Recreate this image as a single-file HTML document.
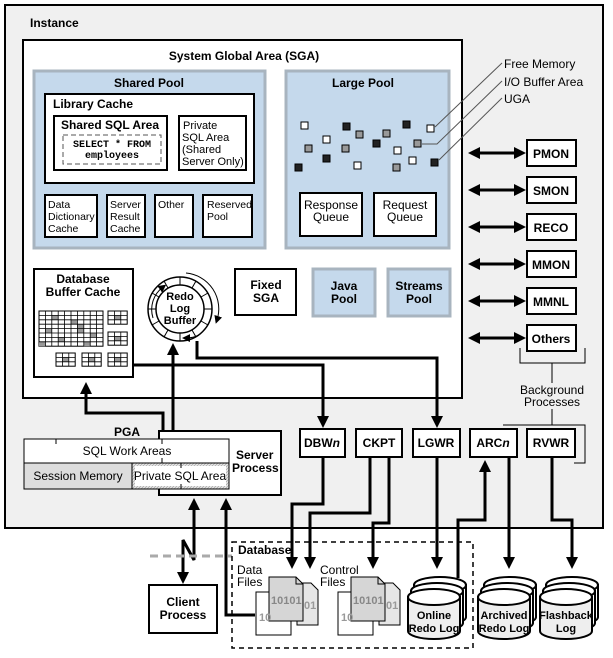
<!DOCTYPE html>
<html><head><meta charset="utf-8"><style>
html,body{margin:0;padding:0;background:#fff}
svg{display:block;font-family:"Liberation Sans",Arial,sans-serif}
.b{font-weight:bold;font-size:12px}
.s{font-size:11px}
.bx{fill:#fff;stroke:#000;stroke-width:2}
.bp{fill:#c5d9ec;stroke:#a8b4bf;stroke-width:3}
.ln{fill:none;stroke:#000;stroke-width:3}
</style></head><body>
<svg width="613" height="658" viewBox="0 0 613 658" xmlns="http://www.w3.org/2000/svg">
<defs>
<marker id="ah" markerWidth="4" markerHeight="4" refX="2" refY="2" orient="auto" markerUnits="strokeWidth"><path d="M0,0 L4,2 L0,4 z" fill="#000"/></marker>
<marker id="ah2" markerWidth="4" markerHeight="4" refX="2" refY="2" orient="auto-start-reverse" markerUnits="strokeWidth"><path d="M0,0 L4,2 L0,4 z" fill="#000"/></marker>
<marker id="sa" markerWidth="8" markerHeight="8" refX="4" refY="4" orient="auto" markerUnits="userSpaceOnUse"><path d="M0,0 L8,4 L0,8 z" fill="#000"/></marker>
<pattern id="hatch" width="3" height="3" patternUnits="userSpaceOnUse"><rect width="3" height="3" fill="#e4e4e4"/><path d="M0,3 L3,0" stroke="#999" stroke-width="0.6"/></pattern>
<g id="sg">
<rect x="0" y="0" width="19.2" height="13.2" fill="#fff" stroke="#000" stroke-width="1"/>
<rect x="6.4" y="4.4" width="6.4" height="4.4" fill="#999"/>
<path d="M6.4,0 V13.2 M12.8,0 V13.2 M0,4.4 H19.2 M0,8.8 H19.2" stroke="#000" stroke-width="0.8"/>
</g>
<g id="cyl">
<g transform="translate(6,-12)"><path d="M0,0 v32 a26,8 0 0 0 52,0 v-32 z" fill="#fff" stroke="#000" stroke-width="2"/><ellipse cx="26" cy="0" rx="26" ry="8" fill="#fff" stroke="#000" stroke-width="2"/></g>
<g transform="translate(3,-6)"><path d="M0,0 v32 a26,8 0 0 0 52,0 v-32 z" fill="#fff" stroke="#000" stroke-width="2"/><ellipse cx="26" cy="0" rx="26" ry="8" fill="#fff" stroke="#000" stroke-width="2"/></g>
<path d="M0,0 v34 a26,8 0 0 0 52,0 v-34 z" fill="#eee" stroke="#000" stroke-width="2"/><ellipse cx="26" cy="0" rx="26" ry="8" fill="#fff" stroke="#000" stroke-width="2"/>
</g>
<g id="files">
<rect x="0" y="15" width="35" height="43" fill="#fff" stroke="#000" stroke-width="1"/>
<path d="M41,6 h14 l7,7 v35 h-21 z" fill="#e6e6e6" stroke="#000" stroke-width="1"/>
<path d="M13,0 h27 l7,7 v37 h-34 z" fill="#d6d6d6" stroke="#000" stroke-width="1"/>
<path d="M40,0 v7 h7" fill="none" stroke="#000" stroke-width="1"/>
<text x="15" y="27" font-size="11" font-weight="bold" fill="#888">10101</text>
<text x="48" y="32" font-size="11" font-weight="bold" fill="#999">01</text>
<text x="3" y="44" font-size="11" font-weight="bold" fill="#999">10</text>
</g>
</defs>

<rect x="5" y="5" width="598" height="523" fill="#f0f0f0" stroke="#000" stroke-width="2"/>
<text x="30" y="27" class="b">Instance</text>

<rect x="23" y="40" width="439" height="358" class="bx"/>
<text x="244" y="60" class="b" text-anchor="middle">System Global Area (SGA)</text>

<rect x="34" y="71" width="231" height="177" class="bp"/>
<text x="149" y="87" class="b" text-anchor="middle">Shared Pool</text>
<rect x="45" y="94" width="209" height="89" class="bx"/>
<text x="53" y="108" class="b">Library Cache</text>
<rect x="54" y="116" width="113" height="54" class="bx"/>
<text x="110" y="129" class="b" text-anchor="middle">Shared SQL Area</text>
<rect x="63" y="135" width="98" height="29" fill="#fff" stroke="#555" stroke-width="1" stroke-dasharray="5,3"/>
<text x="112" y="147" font-family="Liberation Mono,monospace" font-size="10" font-weight="bold" text-anchor="middle">SELECT * FROM</text>
<text x="112" y="158" font-family="Liberation Mono,monospace" font-size="10" font-weight="bold" text-anchor="middle">employees</text>
<rect x="179" y="116" width="67" height="54" class="bx"/>
<text class="s"><tspan x="183" y="129">Private</tspan><tspan x="182" y="141">SQL Area</tspan><tspan x="182" y="153">(Shared</tspan><tspan x="182" y="165">Server Only)</tspan></text>
<rect x="45" y="195" width="52" height="42" class="bx"/>
<text font-size="10.5"><tspan x="48" y="208">Data</tspan><tspan x="48" y="220">Dictionary</tspan><tspan x="48" y="232">Cache</tspan></text>
<rect x="107" y="195" width="38" height="42" class="bx"/>
<text font-size="10.5"><tspan x="110" y="208">Server</tspan><tspan x="110" y="220">Result</tspan><tspan x="110" y="232">Cache</tspan></text>
<rect x="155" y="195" width="38" height="42" class="bx"/>
<text font-size="10.5" x="158" y="208">Other</text>
<rect x="203" y="195" width="49" height="42" class="bx"/>
<text font-size="10.5"><tspan x="207" y="208">Reserved</tspan><tspan x="207" y="220">Pool</tspan></text>

<rect x="286" y="71" width="163" height="177" class="bp"/>
<text x="363" y="87" class="b" text-anchor="middle">Large Pool</text>
<g stroke="#000" stroke-width="1">
<rect x="301" y="122" width="7" height="7" fill="#fff"/><rect x="343" y="123" width="7" height="7" fill="#222"/><rect x="356" y="131" width="7" height="7" fill="#999"/>
<rect x="383" y="130" width="7" height="7" fill="#999"/><rect x="403" y="121" width="7" height="7" fill="#222"/><rect x="427" y="125" width="7" height="7" fill="#fff"/>
<rect x="323" y="136" width="7" height="7" fill="#fff"/><rect x="305" y="145" width="7" height="7" fill="#999"/><rect x="342" y="145" width="7" height="7" fill="#999"/>
<rect x="373" y="140" width="7" height="7" fill="#222"/><rect x="394" y="147" width="7" height="7" fill="#fff"/><rect x="414" y="140" width="7" height="7" fill="#999"/>
<rect x="323" y="155" width="7" height="7" fill="#222"/><rect x="354" y="162" width="7" height="7" fill="#fff"/><rect x="409" y="157" width="7" height="7" fill="#fff"/>
<rect x="393" y="164" width="7" height="7" fill="#999"/><rect x="431" y="159" width="7" height="7" fill="#222"/><rect x="295" y="164" width="7" height="7" fill="#222"/>
</g>
<rect x="300" y="193" width="62" height="43" class="bx"/>
<text font-size="12" text-anchor="middle"><tspan x="331" y="209">Response</tspan><tspan x="331" y="221">Queue</tspan></text>
<rect x="374" y="193" width="62" height="43" class="bx"/>
<text font-size="12" text-anchor="middle"><tspan x="405" y="209">Request</tspan><tspan x="405" y="221">Queue</tspan></text>
<g stroke="#555" stroke-width="1" fill="none">
<path d="M435,127 L502,63"/><path d="M422,144 H437 L502,81"/><path d="M439,160 L502,98"/>
</g>
<text font-size="12"><tspan x="504" y="68">Free Memory</tspan><tspan x="504" y="86">I/O Buffer Area</tspan><tspan x="504" y="103">UGA</tspan></text>

<rect x="34" y="269" width="99" height="108" class="bx"/>
<text class="b" text-anchor="middle"><tspan x="83" y="283">Database</tspan><tspan x="83" y="296">Buffer Cache</tspan></text>
<rect x="39" y="311" width="64" height="35.2" fill="#fff" stroke="#000" stroke-width="1"/>
<g fill="#999"><rect x="51.8" y="315.4" width="6.4" height="4.4"/><rect x="71" y="319.8" width="6.4" height="4.4"/><rect x="77.4" y="324.2" width="6.4" height="4.4"/><rect x="77.4" y="328.6" width="6.4" height="4.4"/><rect x="45.4" y="328.6" width="6.4" height="4.4"/><rect x="90.2" y="333" width="6.4" height="4.4"/><rect x="58.2" y="337.4" width="6.4" height="4.4"/><rect x="39" y="341.8" width="6.4" height="4.4"/><rect x="84" y="341.8" width="6.4" height="4.4"/></g>
<path d="M45.4,311 V346.2 M51.8,311 V346.2 M58.2,311 V346.2 M64.6,311 V346.2 M71,311 V346.2 M77.4,311 V346.2 M83.8,311 V346.2 M90.2,311 V346.2 M96.6,311 V346.2 M39,315.4 H103 M39,319.8 H103 M39,324.2 H103 M39,328.6 H103 M39,333 H103 M39,337.4 H103 M39,341.8 H103" stroke="#000" stroke-width="0.8"/>
<use href="#sg" x="108" y="311"/><use href="#sg" x="108" y="332"/>
<use href="#sg" x="56" y="353"/><use href="#sg" x="82" y="353"/><use href="#sg" x="108" y="353"/>

<circle cx="180" cy="309" r="32" fill="#fff" stroke="#000" stroke-width="1.5"/>
<circle cx="180" cy="309" r="24" fill="#fff" stroke="#000" stroke-width="1.5"/>
<g stroke="#000" stroke-width="1">
<path d="M180,277 V285 M196,281 L192,288 M208,293 L201,297 M212,309 H204 M208,325 L201,321 M196,337 L192,330 M180,341 V333 M164,337 L168,330 M152,325 L159,321 M148,309 H156 M152,293 L159,297 M164,281 L168,288"/>
</g>
<path d="M153,318 A28,28 0 0 1 163,287" fill="none" stroke="#000" stroke-width="1" marker-end="url(#sa)"/>
<path d="M199,335 A28,28 0 0 1 186,338" fill="none" stroke="#000" stroke-width="1" marker-end="url(#sa)"/>
<path d="M186,273 A36,36 0 0 1 217,320" fill="none" stroke="#000" stroke-width="1" marker-end="url(#sa)"/>
<text font-size="11" font-weight="bold" text-anchor="middle"><tspan x="180" y="300">Redo</tspan><tspan x="180" y="312">Log</tspan><tspan x="180" y="324">Buffer</tspan></text>

<rect x="235" y="269" width="61" height="46" class="bx"/>
<text class="b" text-anchor="middle"><tspan x="266" y="289">Fixed</tspan><tspan x="266" y="302">SGA</tspan></text>
<rect x="313" y="269" width="62" height="47" class="bp"/>
<text class="b" text-anchor="middle"><tspan x="344" y="290">Java</tspan><tspan x="344" y="303">Pool</tspan></text>
<rect x="388" y="269" width="62" height="47" class="bp"/>
<text class="b" text-anchor="middle"><tspan x="419" y="290">Streams</tspan><tspan x="419" y="303">Pool</tspan></text>

<g class="b" text-anchor="middle">
<rect x="527" y="140" width="49" height="26" class="bx"/><text x="551" y="158">PMON</text>
<rect x="527" y="177" width="49" height="26" class="bx"/><text x="551" y="195">SMON</text>
<rect x="527" y="214" width="49" height="26" class="bx"/><text x="551" y="232">RECO</text>
<rect x="527" y="251" width="49" height="26" class="bx"/><text x="551" y="269">MMON</text>
<rect x="527" y="288" width="49" height="26" class="bx"/><text x="551" y="306">MMNL</text>
<rect x="527" y="325" width="49" height="26" class="bx"/><text x="551" y="343">Others</text>
</g>
<g class="ln" marker-start="url(#ah2)" marker-end="url(#ah)">
<path d="M474,153 H520"/><path d="M474,190 H520"/><path d="M474,227 H520"/><path d="M474,264 H520"/><path d="M474,301 H520"/><path d="M474,338 H520"/>
</g>
<g fill="none" stroke="#000" stroke-width="1">
<path d="M520,348 V363 H585 V348"/><path d="M552,363 V383"/><path d="M552,409 V425"/><path d="M503,425 H585 V463 H574"/>
</g>
<text font-size="12" text-anchor="middle"><tspan x="552" y="394">Background</tspan><tspan x="552" y="406">Processes</tspan></text>

<g class="b" text-anchor="middle">
<rect x="300" y="429" width="45" height="28" class="bx"/><text x="322" y="447">DBW<tspan font-style="italic">n</tspan></text>
<rect x="356" y="429" width="46" height="28" class="bx"/><text x="379" y="447">CKPT</text>
<rect x="413" y="429" width="47" height="28" class="bx"/><text x="436" y="447">LGWR</text>
<rect x="470" y="429" width="47" height="28" class="bx"/><text x="493" y="447">ARC<tspan font-style="italic">n</tspan></text>
<rect x="527" y="429" width="48" height="28" class="bx"/><text x="551" y="447">RVWR</text>
</g>

<rect x="159" y="431" width="122" height="64" class="bx"/>
<text class="b"><tspan x="236" y="459">Server</tspan><tspan x="232" y="472">Process</tspan></text>
<text x="127" y="436" class="b" text-anchor="middle">PGA</text>
<rect x="24" y="439" width="205" height="24" fill="#fff" stroke="#000" stroke-width="1"/>
<rect x="24" y="463" width="108" height="26" fill="#ddd" stroke="#000" stroke-width="1"/>
<rect x="132" y="463" width="97" height="26" fill="url(#hatch)" stroke="#000" stroke-width="1"/>
<rect x="135" y="466" width="91" height="20" fill="#fff"/>
<path d="M56,439 V444 M162,439 V444 M162,458 V463 M181,463 V468 M181,484 V489" stroke="#000" stroke-width="1"/>
<text font-size="12" text-anchor="middle"><tspan x="127" y="455">SQL Work Areas</tspan><tspan x="78" y="480">Session Memory</tspan><tspan x="180" y="480">Private SQL Area</tspan></text>

<g class="ln">
<path d="M163,431 V413 H86 V388" marker-end="url(#ah)"/>
<path d="M173,431 V349" marker-end="url(#ah)"/>
<path d="M133,365 H323 V422" marker-end="url(#ah)"/>
<path d="M197,341 V358 H437 V422" marker-end="url(#ah)"/>
<path d="M323,457 V504 H292 V563" marker-end="url(#ah)"/>
<path d="M370,457 V513 H310 V563" marker-end="url(#ah)"/>
<path d="M389,457 V523 H373 V563" marker-end="url(#ah)"/>
<path d="M437,457 V563" marker-end="url(#ah)"/>
<path d="M458,578 V520 H485 V466" marker-end="url(#ah)"/>
<path d="M509,457 V563" marker-end="url(#ah)"/>
<path d="M552,457 V520 H572 V563" marker-end="url(#ah)"/>
<path d="M255,615 H226 V504" marker-end="url(#ah)"/>
<path d="M194,504 V560 L183,540 V578" marker-end="url(#ah)" marker-start="url(#ah2)" stroke-linejoin="miter"/>
</g>
<path d="M150,556 H232" stroke="#aaa" stroke-width="3" stroke-dasharray="8,5"/>

<rect x="149" y="585" width="68" height="48" class="bx"/>
<text class="b" text-anchor="middle"><tspan x="183" y="606">Client</tspan><tspan x="183" y="619">Process</tspan></text>

<rect x="232" y="542" width="241" height="106" fill="none" stroke="#000" stroke-width="1.5" stroke-dasharray="5,4"/>
<text x="238" y="554" class="b">Database</text>
<text font-size="12"><tspan x="237" y="574">Data</tspan><tspan x="237" y="586">Files</tspan><tspan x="320" y="574">Control</tspan><tspan x="320" y="586">Files</tspan></text>
<use href="#files" x="256" y="577"/>
<use href="#files" x="338" y="577"/>

<use href="#cyl" x="408" y="597"/>
<use href="#cyl" x="478" y="597"/>
<use href="#cyl" x="540" y="597"/>
<text font-size="11" font-weight="bold" text-anchor="middle"><tspan x="434" y="619">Online</tspan><tspan x="434" y="632">Redo Log</tspan><tspan x="504" y="619">Archived</tspan><tspan x="504" y="632">Redo Log</tspan><tspan x="566" y="619">Flashback</tspan><tspan x="566" y="632">Log</tspan></text>
</svg>
</body></html>
